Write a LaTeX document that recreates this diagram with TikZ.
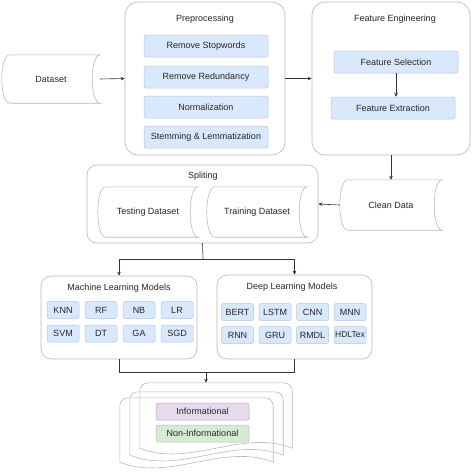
\documentclass[tikz,border=0pt]{standalone}
\usepackage{fontspec}
\setmainfont{Liberation Sans}
\usepackage{tikz}
\usetikzlibrary{positioning,arrows.meta}
\definecolor{frame}{HTML}{B8B8B8}
\definecolor{bluefill}{HTML}{DAE8FC}
\definecolor{blueline}{HTML}{AFC6E6}
\definecolor{purplefill}{HTML}{E6DAEC}
\definecolor{purpleline}{HTML}{BCA5CC}
\definecolor{greenfill}{HTML}{D8EAD6}
\definecolor{greenline}{HTML}{A9CC9B}
\definecolor{wire}{HTML}{333333}
% outline of a stored data node
\newcommand\storeshape[1]{%
  \draw[frame, line width=0.6pt] ([xshift=8pt]#1.north west) -- (#1.north east)
    .. controls +(-10.7pt,0pt) and +(-10.7pt,0pt) .. (#1.south east)
    -- ([xshift=8pt]#1.south west)
    .. controls +(-10.7pt,0pt) and +(-10.7pt,0pt) .. ([xshift=8pt]#1.north west);}
% outline of one sheet of the document stack
\newcommand\docshape[1]{%
  \draw[frame, line width=0.6pt] (#1.south west)
    [rounded corners=8pt] -- (#1.north west) -- (#1.north east)
    [sharp corners] -- (#1.south east)
    .. controls +(-50pt,20pt) and +(50pt,-20pt) .. (#1.south west) -- cycle;}

\begin{document}
\begin{tikzpicture}[x=1pt, y=-1pt, >={Stealth[length=4pt,width=3.5pt]},
    every node/.style={font=\fontsize{9}{11}\selectfont, text=black!85, inner sep=0pt},
    group/.style={draw=frame, fill=white, rounded corners=13pt, line width=0.6pt},
    item/.style={draw=blueline, fill=bluefill, rounded corners=2pt, line width=0.5pt,
                 minimum width=124pt, minimum height=22pt},
    model/.style={item, minimum width=32pt, minimum height=17pt},
    store/.style={minimum height=50pt},
    sheet/.style={minimum width=152pt, minimum height=64pt},
    wire/.style={draw=wire, line width=0.6pt}]
  \useasboundingbox (0,0) rectangle (474,474);

  % input
  \node[store, minimum width=98pt, minimum height=48pt] (data) at (51,79) {Dataset};
  \storeshape{data}

  % preprocessing
  \node[group, minimum width=160pt, minimum height=153pt] (pre) at (205,78.5) {};
  \node (pretitle) at (205,19) {Preprocessing};
  \node[item] (stop) at (206,46) {Remove Stopwords};
  \node[item] (redund) at (206,77) {Remove Redundancy};
  \node[item] (norm) at (206,107) {Normalization};
  \node[item] (stem) at (206,137) {Stemming \& Lemmatization};

  % feature engineering
  \node[group, minimum width=158pt, minimum height=153pt] (fe) at (391,78.5) {};
  \node (fetitle) at (395,19) {Feature Engineering};
  \node[item] (fsel) at (396,62) {Feature Selection};
  \node[item] (fext) at (393,108) {Feature Extraction};

  % clean data and splitting
  \node[store, minimum width=102pt] (clean) at (391,205) {Clean Data};
  \storeshape{clean}
  \node[group, rounded corners=10pt, minimum width=231pt, minimum height=78pt] (split) at (202.5,204) {};
  \node (splittitle) at (203,176) {Spliting};
  \node[store, minimum width=100pt] (test) at (148,212) {Testing Dataset};
  \storeshape{test}
  \node[store, minimum width=100pt] (train) at (257,212) {Training Dataset};
  \storeshape{train}

  % machine learning models
  \node[group, rounded corners=10pt, minimum width=156pt, minimum height=83pt] (ml) at (119,317.5) {};
  \node (mltitle) at (119,288) {Machine Learning Models};
  \node[model] (knn) at (63,310) {KNN};
  \node[model] (rf) at (101,310) {RF};
  \node[model] (nb) at (139,310) {NB};
  \node[model] (lr) at (177,310) {LR};
  \node[model] (svm) at (63,333.5) {SVM};
  \node[model] (dt) at (101,333.5) {DT};
  \node[model] (ga) at (139,333.5) {GA};
  \node[model] (sgd) at (177,333.5) {SGD};

  % deep learning models
  \node[group, rounded corners=10pt, minimum width=155pt, minimum height=84pt] (dl) at (294.5,317) {};
  \node (dltitle) at (292,287) {Deep Learning Models};
  \node[model] (bert) at (237.5,312) {BERT};
  \node[model] (lstm) at (275,312) {LSTM};
  \node[model] (cnn) at (312.5,312) {CNN};
  \node[model] (mnn) at (350,312) {MNN};
  \node[model] (rnn) at (237.5,335) {RNN};
  \node[model] (gru) at (275,335) {GRU};
  \node[model] (rmdl) at (312.5,335) {RMDL};
  \node[model, font=\fontsize{8.5}{10}\selectfont] (hdl) at (350,335) {HDLTex};

  % output documents
  \node[sheet, minimum height=65pt] (back) at (216,415.5) {};
  \docshape{back}
  \node[sheet, minimum width=153pt, minimum height=63pt] (mid) at (206.5,423.5) {};
  \docshape{mid}
  \node[sheet, minimum width=153pt] (front) at (196.5,430) {};
  \docshape{front}
  \node[item, draw=purpleline, fill=purplefill, minimum width=93pt, minimum height=17pt] (info) at (202.5,411.5) {Informational};
  \node[item, draw=greenline, fill=greenfill, minimum width=93pt, minimum height=17pt] (noninfo) at (202.5,433.5) {Non-Informational};

  % connectors
  \coordinate (fork) at (203,259);
  \coordinate (join) at (206,372);
  \draw[wire, ->] (data.east) -- (pre.west);
  \draw[wire, ->] (pre.east) -- (fe.west);
  \draw[wire, ->] (fsel.south) -- (fsel.south |- fext.north);
  \draw[wire, ->] (fe.south) -- (clean.north);
  \draw[wire, ->] (clean.west) -- (split.east);
  \draw[wire] (split.south) -- (fork);
  \draw[wire, ->] (fork) -| (ml.north);
  \draw[wire, ->] (fork) -| (dl.north);
  \draw[wire] (ml.south) |- (join);
  \draw[wire] (dl.south) |- (join);
  \draw[wire, ->] (join) -- (join |- back.north);
\end{tikzpicture}
\end{document}
